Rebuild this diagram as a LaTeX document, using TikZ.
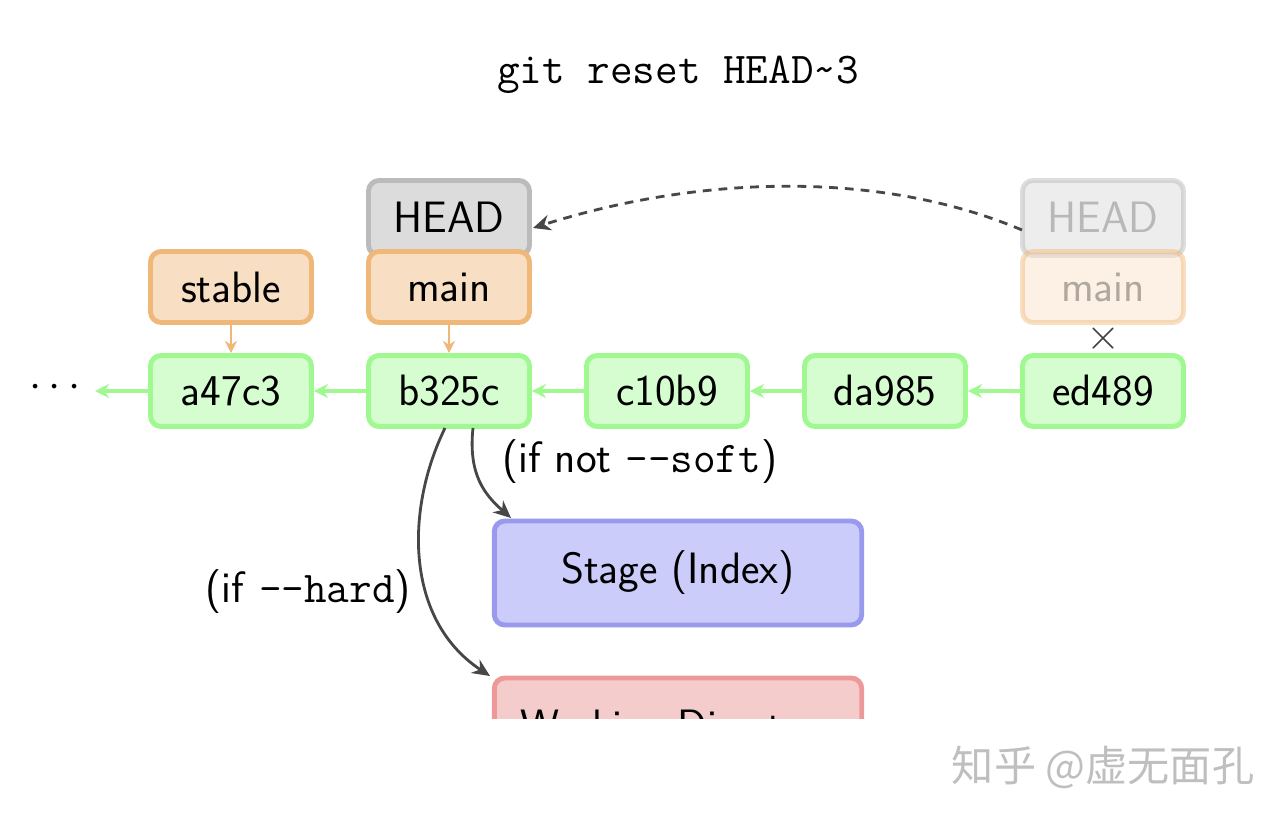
\documentclass[tikz,border=0pt]{standalone}
\usepackage{fontspec}
\newfontfamily\cjk{Noto Sans CJK SC}
\usetikzlibrary{arrows.meta}
\definecolor{gfill}{HTML}{D5FDD0}\definecolor{gdraw}{HTML}{A0F890}
\definecolor{ofill}{HTML}{F8DFC4}\definecolor{odraw}{HTML}{F0B878}
\definecolor{hfill}{HTML}{DCDCDC}\definecolor{hdraw}{HTML}{BBBBBB}
\definecolor{sfill}{HTML}{CCCCFA}\definecolor{sdraw}{HTML}{9999EE}
\definecolor{wfill}{HTML}{F5CCCC}\definecolor{wdraw}{HTML}{EE9999}
\begin{document}
\begin{tikzpicture}[x=0.02cm,y=-0.02cm,
 box/.style={rounded corners=6pt,line width=2.8pt,minimum width=3.22cm,minimum height=1.42cm,font=\sffamily\fontsize{25}{29}\selectfont,inner sep=0pt},
 commit/.style={box,fill=gfill,draw=gdraw},
 br/.style={box,fill=ofill,draw=odraw},
 hd/.style={box,fill=hfill,draw=hdraw},
 big/.style={box,minimum width=7.35cm,minimum height=2.08cm},
 conn/.style={line width=1.6pt,draw=black!72,-{Stealth[length=10pt,width=9pt]}},
 lbl/.style={font=\sffamily\fontsize{25}{29}\selectfont}]
\useasboundingbox (0,0) rectangle (1274,818);
\node[font=\ttfamily\fontsize{25}{29}\selectfont] (title) at (678,75) {git reset HEAD\string~3};
% commits
\node[commit] (a) at (231,391) {a47c3};
\node[commit] (b) at (449,391) {b325c};
\node[commit] (c) at (667,391) {c10b9};
\node[commit] (d) at (885,391) {da985};
\node[commit] (e) at (1103,391) {ed489};
\node[lbl] (dots) at (55,388) {$\cdots$};
\coordinate (dotsend) at (95,391);
\begin{scope}[line width=2pt,draw=gdraw,-{Stealth[length=8pt,width=8pt]},color=gdraw]
\draw (a) -- (dotsend);
\draw (b) -- (a);
\draw (c) -- (b);
\draw (d) -- (c);
\draw (e) -- (d);
\end{scope}
% branches
\node[br] (stable) at (231,287) {stable};
\node[hd,minimum height=1.5cm] (head) at (449,218) {};
\node[lbl,anchor=center] (headt) at (449,217) {HEAD};
\node[br] (main) at (449,287) {main};
\node[hd,minimum height=1.5cm,opacity=0.5] (head2) at (1103,218) {};
\node[lbl,text=black!28] (head2t) at (1103,217) {HEAD};
\node[br,opacity=0.45,text opacity=0.3] (main2) at (1103,287) {main};
\node[font=\fontsize{26}{28}\selectfont,text=black!75,inner sep=0pt] (x) at (1103,339) {$\times$};
\draw[line width=1.3pt,color=odraw,-{Stealth[length=7pt,width=7pt]}] (stable) -- (a);
\draw[line width=1.3pt,color=odraw,-{Stealth[length=7pt,width=7pt]}] (main) -- (b);
\coordinate (hs) at (1022,230);
\coordinate (he) at (533,228);
\draw[line width=1.6pt,black!72,dash pattern=on 5pt off 4pt,-{Stealth[length=10pt,width=9pt]}] (hs) .. controls (880,170) and (700,175) .. (he);
% stage & wd
\node[big,fill=sfill,draw=sdraw] (stage) at (678,573) {Stage (Index)};
\begin{scope}
\clip (0,0) rectangle (1274,718);
\node[big,fill=wfill,draw=wdraw] (wd) at (678,730) {Working Directory};
\end{scope}
\coordinate (s1) at (473,428);
\coordinate (s2) at (511,518);
\coordinate (w1) at (445,428);
\coordinate (w2) at (490,676);
\draw[conn] (s1) .. controls (468,475) and (485,495) .. (s2);
\draw[conn] (w1) .. controls (405,510) and (405,620) .. (w2);
\node[lbl] (l1) at (640,462) {(if not \texttt{--soft})};
\node[lbl] (l2) at (308,592) {(if \texttt{--hard})};
\node[font=\cjk\fontsize{24}{28}\selectfont,text=black!25] (wm) at (1103,767) {知乎 @虚无面孔};
\end{tikzpicture}
\end{document}
